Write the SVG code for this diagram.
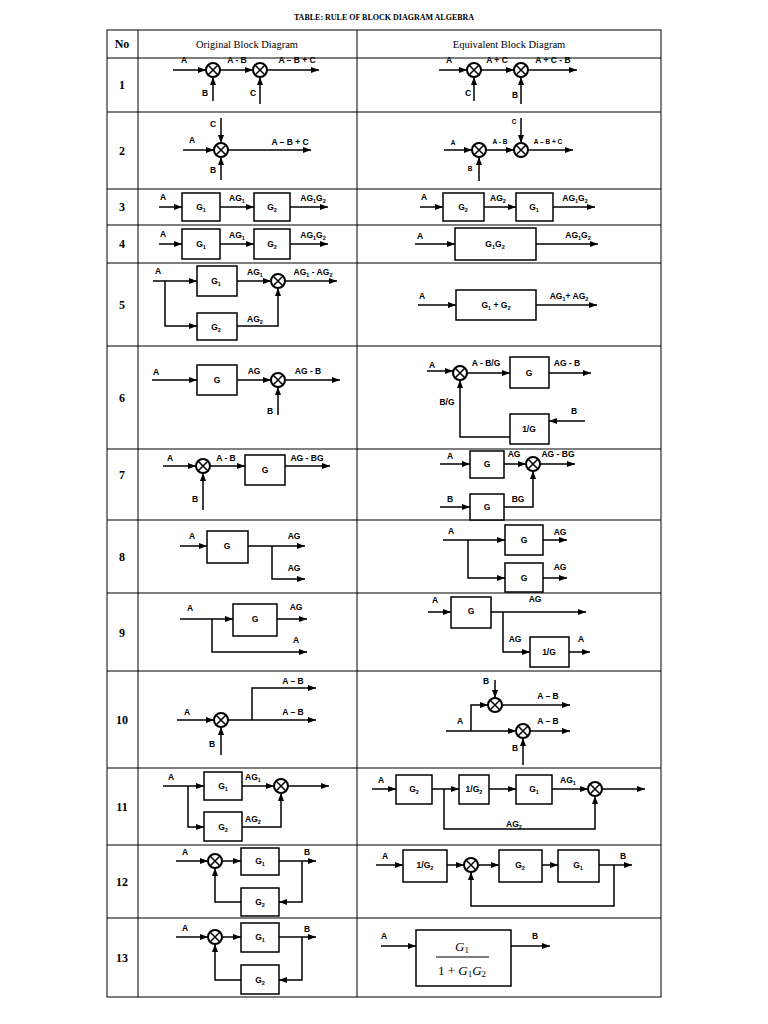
<svg xmlns="http://www.w3.org/2000/svg" xmlns:xlink="http://www.w3.org/1999/xlink" width="768" height="1024" viewBox="0 0 768 1024">
<style>
.g{stroke:#000;stroke-width:1;fill:none}
.a{stroke:#000;stroke-width:1.5;fill:none;marker-end:url(#ar)}
.l{stroke:#000;stroke-width:1.5;fill:none}
.b{stroke:#000;stroke-width:1.5;fill:#fff}
.t{font-family:"Liberation Sans",Arial,sans-serif;font-weight:bold;font-size:8.5px;fill:#000}
.c{text-anchor:middle}
.n{font-family:"Liberation Serif",serif;font-weight:bold;font-size:12px;text-anchor:middle;fill:#000}
.h{font-family:"Liberation Serif",serif;font-size:10.5px;text-anchor:middle;fill:#000}
.s{font-size:5.5px}
</style>
<defs>
<marker id="ar" markerUnits="userSpaceOnUse" markerWidth="8" markerHeight="6" refX="8" refY="3" orient="auto"><path d="M0,0L8,3L0,6z" fill="#000"/></marker>
<g id="sj"><circle r="7" fill="#fff" stroke="#000" stroke-width="2"/><path d="M-5,-5L5,5M5,-5L-5,5" stroke="#000" stroke-width="1.5"/></g>
</defs>
<rect width="768" height="1024" fill="#fff"/>
<text x="384" y="20" class="h" style="font-size:8px;font-weight:bold">TABLE: RULE OF BLOCK DIAGRAM ALGEBRA</text>
<g id="table">
<rect x="107" y="30" width="554" height="967" class="g"/>
<path class="g" d="M138,30V997M357,30V997M107,58H661M107,112H661M107,189H661M107,225H661M107,263H661M107,346H661M107,449H661M107,520H661M107,593H661M107,671H661M107,768H661M107,845H661M107,918H661"/>
<text x="122" y="48" class="n">No</text>
<text x="247" y="48" class="h">Original Block Diagram</text>
<text x="509" y="48" class="h">Equivalent Block Diagram</text>
<text x="122" y="89" class="n">1</text><text x="122" y="155" class="n">2</text><text x="122" y="211" class="n">3</text><text x="122" y="248" class="n">4</text><text x="122" y="309" class="n">5</text><text x="122" y="402" class="n">6</text><text x="122" y="479" class="n">7</text><text x="122" y="561" class="n">8</text><text x="122" y="637" class="n">9</text><text x="122" y="724" class="n">10</text><text x="122" y="811" class="n">11</text><text x="122" y="886" class="n">12</text><text x="122" y="962" class="n">13</text>
</g>
<g id="connectors">
<path class="a" d="M173,70H206"/><path class="a" d="M220,70H253"/><path class="a" d="M267,70H319"/>
<path class="a" d="M213,101V77"/><path class="a" d="M260,104V77"/>
<path class="a" d="M439,70H467"/><path class="a" d="M481,70H514"/><path class="a" d="M528,70H577"/>
<path class="a" d="M474,101V77"/><path class="a" d="M521,104V77"/>
<path class="a" d="M221,118V143"/><path class="a" d="M183,150H214"/><path class="a" d="M221,180V157"/><path class="a" d="M228,150H311"/>
<path class="a" d="M444,150H472"/><path class="a" d="M486,150H514"/><path class="a" d="M521,118V143"/><path class="a" d="M479,181V157"/><path class="a" d="M528,150H573"/>
<path class="a" d="M159,207H182"/><path class="a" d="M220,207H254"/><path class="a" d="M290,207H328"/>
<path class="a" d="M420,207H443"/><path class="a" d="M484,207H516"/><path class="a" d="M553,207H595"/>
<path class="a" d="M159,244H182"/><path class="a" d="M220,244H254"/><path class="a" d="M290,244H328"/>
<path class="a" d="M415,244H455"/><path class="a" d="M536,244H598"/>
<path class="a" d="M153,281H197"/><path class="a" d="M165,281V326H197"/><path class="a" d="M237,281H271"/><path class="a" d="M237,326H278V288"/><path class="a" d="M285,281H337"/>
<path class="a" d="M418,305H456"/><path class="a" d="M536,305H597"/>
<path class="a" d="M152,380H197"/><path class="a" d="M237,380H271"/><path class="a" d="M285,380H340"/><path class="a" d="M278,415V387"/>
<path class="a" d="M427,371H453"/><path class="a" d="M467,373H510"/><path class="a" d="M549,373H591"/><path class="a" d="M585,421H549"/><path class="a" d="M510,437H460V380"/>
<path class="a" d="M163,466H196"/><path class="a" d="M210,466H245"/><path class="a" d="M285,466H330"/><path class="a" d="M203,510V473"/>
<path class="a" d="M440,464H470"/><path class="a" d="M504,464H526"/><path class="a" d="M540,464H575"/><path class="a" d="M440,507H470"/><path class="a" d="M504,507H533V471"/>
<path class="a" d="M180,546H207"/><path class="a" d="M248,546H305"/><path class="a" d="M272,546V579H305"/>
<path class="a" d="M443,540H505"/><path class="a" d="M468,540V578H505"/><path class="a" d="M543,540H567"/><path class="a" d="M543,578H567"/>
<path class="a" d="M180,619H233"/><path class="a" d="M212,619V652H307"/><path class="a" d="M277,619H307"/>
<path class="a" d="M428,612H451"/><path class="a" d="M491,612H586"/><path class="a" d="M503,612V652H530"/><path class="a" d="M569,652H590"/>
<path class="a" d="M177,720H214"/><path class="a" d="M221,755V727"/><path class="a" d="M228,720H316"/><path class="a" d="M252,720V688H316"/>
<path class="a" d="M495,680V698"/><path class="a" d="M446,731H516"/><path class="a" d="M471,731V705H488"/><path class="a" d="M502,705H570"/><path class="a" d="M530,731H570"/><path class="a" d="M523,765V738"/>
<path class="a" d="M163,786H204"/><path class="a" d="M188,786V827H204"/><path class="a" d="M242,786H274"/><path class="a" d="M242,827H281V793"/><path class="a" d="M288,786H329"/>
<path class="a" d="M372,789H396"/><path class="a" d="M432,789H459"/><path class="a" d="M489,789H516"/><path class="a" d="M552,789H588"/><path class="a" d="M444,789V829H595V796"/><path class="a" d="M602,789H645"/>
<path class="a" d="M176,861H208"/><path class="a" d="M222,861H241"/><path class="a" d="M279,861H316"/><path class="a" d="M302,861V902H279"/><path class="a" d="M241,902H215V868"/>
<path class="a" d="M376,865H403"/><path class="a" d="M447,865H464"/><path class="a" d="M478,865H499"/><path class="a" d="M542,865H558"/><path class="a" d="M599,865H632"/><path class="a" d="M614,865V906H471V872"/>
<path class="a" d="M176,937H208"/><path class="a" d="M222,937H241"/><path class="a" d="M279,937H316"/><path class="a" d="M302,937V980H279"/><path class="a" d="M241,980H215V944"/>
<path class="a" d="M381,946H416"/><path class="a" d="M511,946H550"/>
</g>
<g id="junctions">
<use xlink:href="#sj" x="213" y="70"/><use xlink:href="#sj" x="260" y="70"/><use xlink:href="#sj" x="474" y="70"/><use xlink:href="#sj" x="521" y="70"/>
<use xlink:href="#sj" x="221" y="150"/><use xlink:href="#sj" x="479" y="150"/><use xlink:href="#sj" x="521" y="150"/>
<use xlink:href="#sj" x="278" y="281"/><use xlink:href="#sj" x="278" y="380"/><use xlink:href="#sj" x="460" y="373"/>
<use xlink:href="#sj" x="203" y="466"/><use xlink:href="#sj" x="533" y="464"/>
<use xlink:href="#sj" x="221" y="720"/><use xlink:href="#sj" x="495" y="705"/><use xlink:href="#sj" x="523" y="731"/>
<use xlink:href="#sj" x="281" y="786"/><use xlink:href="#sj" x="595" y="789"/>
<use xlink:href="#sj" x="215" y="861"/><use xlink:href="#sj" x="471" y="865"/><use xlink:href="#sj" x="215" y="937"/>
</g>
<g id="blocks">
<g id="r3l1"><rect class="b" x="182" y="193" width="38" height="28"/><text class="t c" x="201" y="210">G<tspan class="s" dy="2">1</tspan></text></g>
<g id="r3l2"><rect class="b" x="254" y="193" width="36" height="28"/><text class="t c" x="272" y="210">G<tspan class="s" dy="2">2</tspan></text></g>
<g id="r3r1"><rect class="b" x="443" y="193" width="41" height="28"/><text class="t c" x="463" y="210">G<tspan class="s" dy="2">2</tspan></text></g>
<g id="r3r2"><rect class="b" x="516" y="193" width="37" height="28"/><text class="t c" x="534" y="210">G<tspan class="s" dy="2">1</tspan></text></g>
<g id="r4l1"><rect class="b" x="182" y="229" width="38" height="30"/><text class="t c" x="201" y="247">G<tspan class="s" dy="2">1</tspan></text></g>
<g id="r4l2"><rect class="b" x="254" y="229" width="36" height="30"/><text class="t c" x="272" y="247">G<tspan class="s" dy="2">2</tspan></text></g>
<g id="r4r"><rect class="b" x="455" y="228" width="81" height="32"/><text class="t c" x="495" y="247">G<tspan class="s" dy="2">1</tspan><tspan dy="-2">G</tspan><tspan class="s" dy="2">2</tspan></text></g>
<g id="r5l1"><rect class="b" x="197" y="266" width="40" height="30"/><text class="t c" x="216" y="284">G<tspan class="s" dy="2">1</tspan></text></g>
<g id="r5l2"><rect class="b" x="197" y="313" width="40" height="27"/><text class="t c" x="216" y="330">G<tspan class="s" dy="2">2</tspan></text></g>
<g id="r5r"><rect class="b" x="456" y="290" width="80" height="30"/><text class="t c" x="496" y="308">G<tspan class="s" dy="2">1</tspan><tspan dy="-2"> + G</tspan><tspan class="s" dy="2">2</tspan></text></g>
<g id="r6l"><rect class="b" x="197" y="365" width="40" height="30"/><text class="t c" x="217" y="383">G</text></g>
<g id="r6r1"><rect class="b" x="510" y="357" width="39" height="31"/><text class="t c" x="529" y="376">G</text></g>
<g id="r6r2"><rect class="b" x="510" y="414" width="39" height="30"/><text class="t c" x="529" y="432">1/G</text></g>
<g id="r7l"><rect class="b" x="245" y="455" width="40" height="30"/><text class="t c" x="265" y="473">G</text></g>
<g id="r7r1"><rect class="b" x="470" y="451" width="34" height="27"/><text class="t c" x="487" y="467">G</text></g>
<g id="r7r2"><rect class="b" x="470" y="494" width="34" height="26"/><text class="t c" x="487" y="510">G</text></g>
<g id="r8l"><rect class="b" x="207" y="531" width="41" height="32"/><text class="t c" x="227" y="549">G</text></g>
<g id="r8r1"><rect class="b" x="505" y="525" width="38" height="30"/><text class="t c" x="524" y="543">G</text></g>
<g id="r8r2"><rect class="b" x="505" y="563" width="38" height="29"/><text class="t c" x="524" y="581">G</text></g>
<g id="r9l"><rect class="b" x="233" y="604" width="44" height="32"/><text class="t c" x="255" y="622">G</text></g>
<g id="r9r1"><rect class="b" x="451" y="597" width="40" height="31"/><text class="t c" x="471" y="614">G</text></g>
<g id="r9r2"><rect class="b" x="530" y="637" width="39" height="30"/><text class="t c" x="549" y="655">1/G</text></g>
<g id="r11l1"><rect class="b" x="204" y="772" width="38" height="28"/><text class="t c" x="223" y="789">G<tspan class="s" dy="2">1</tspan></text></g>
<g id="r11l2"><rect class="b" x="204" y="812" width="38" height="29"/><text class="t c" x="223" y="830">G<tspan class="s" dy="2">2</tspan></text></g>
<g id="r11r1"><rect class="b" x="396" y="775" width="36" height="29"/><text class="t c" x="414" y="792">G<tspan class="s" dy="2">2</tspan></text></g>
<g id="r11r2"><rect class="b" x="459" y="775" width="30" height="29"/><text class="t c" x="474" y="792">1/G<tspan class="s" dy="2">2</tspan></text></g>
<g id="r11r3"><rect class="b" x="516" y="775" width="36" height="29"/><text class="t c" x="534" y="792">G<tspan class="s" dy="2">1</tspan></text></g>
<g id="r12l1"><rect class="b" x="241" y="848" width="38" height="27"/><text class="t c" x="260" y="864">G<tspan class="s" dy="2">1</tspan></text></g>
<g id="r12l2"><rect class="b" x="241" y="888" width="38" height="28"/><text class="t c" x="260" y="905">G<tspan class="s" dy="2">2</tspan></text></g>
<g id="r12r1"><rect class="b" x="403" y="850" width="44" height="32"/><text class="t c" x="425" y="868">1/G<tspan class="s" dy="2">2</tspan></text></g>
<g id="r12r2"><rect class="b" x="499" y="850" width="43" height="32"/><text class="t c" x="520" y="868">G<tspan class="s" dy="2">2</tspan></text></g>
<g id="r12r3"><rect class="b" x="558" y="850" width="41" height="32"/><text class="t c" x="578" y="868">G<tspan class="s" dy="2">1</tspan></text></g>
<g id="r13l1"><rect class="b" x="241" y="923" width="38" height="29"/><text class="t c" x="260" y="940">G<tspan class="s" dy="2">1</tspan></text></g>
<g id="r13l2"><rect class="b" x="241" y="965" width="38" height="29"/><text class="t c" x="260" y="983">G<tspan class="s" dy="2">2</tspan></text></g>
<g id="r13r"><rect class="b" x="416" y="930" width="95" height="56"/>
<text x="462" y="951" style="font-family:'Liberation Serif',serif;font-style:italic;font-size:13px" text-anchor="middle">G<tspan font-size="9" dy="2" font-style="normal">1</tspan></text>
<path d="M436,957H489" stroke="#000" stroke-width="1"/>
<text x="462" y="975" style="font-family:'Liberation Serif',serif;font-size:13px" text-anchor="middle">1 + <tspan font-style="italic">G</tspan><tspan font-size="9" dy="2">1</tspan><tspan font-style="italic" dy="-2">G</tspan><tspan font-size="9" dy="2">2</tspan></text></g>
</g>
<g id="labels" class="t">
<text x="184" y="63" class="c">A</text><text x="237" y="63" class="c">A - B</text><text x="297" y="63" class="c">A – B + C</text><text x="205" y="96" class="c">B</text><text x="253" y="96" class="c">C</text>
<text x="449" y="63" class="c">A</text><text x="497" y="63" class="c">A + C</text><text x="553" y="63" class="c">A + C - B</text><text x="468" y="96" class="c">C</text><text x="515" y="98" class="c">B</text>
<text x="213" y="127" class="c">C</text><text x="192" y="143" class="c">A</text><text x="213" y="173" class="c">B</text><text x="290" y="145" class="c">A – B + C</text>
<text x="453" y="145" class="c" style="font-size:6.5px">A</text><text x="500" y="144" class="c" style="font-size:6.5px">A - B</text><text x="514" y="124" class="c" style="font-size:6.5px">C</text><text x="470" y="171" class="c" style="font-size:6.5px">B</text><text x="548" y="144" class="c" style="font-size:6.5px">A – B + C</text>
<text x="163" y="200" class="c">A</text><text x="237" y="201" class="c">AG<tspan class="s" dy="2">1</tspan></text><text x="313" y="201" class="c">AG<tspan class="s" dy="2">1</tspan><tspan dy="-2">G</tspan><tspan class="s" dy="2">2</tspan></text>
<text x="424" y="200" class="c">A</text><text x="498" y="201" class="c">AG<tspan class="s" dy="2">2</tspan></text><text x="575" y="201" class="c">AG<tspan class="s" dy="2">1</tspan><tspan dy="-2">G</tspan><tspan class="s" dy="2">2</tspan></text>
<text x="163" y="237" class="c">A</text><text x="237" y="238" class="c">AG<tspan class="s" dy="2">1</tspan></text><text x="313" y="238" class="c">AG<tspan class="s" dy="2">1</tspan><tspan dy="-2">G</tspan><tspan class="s" dy="2">2</tspan></text>
<text x="420" y="239" class="c">A</text><text x="578" y="238" class="c">AG<tspan class="s" dy="2">1</tspan><tspan dy="-2">G</tspan><tspan class="s" dy="2">2</tspan></text>
<text x="158" y="274" class="c">A</text><text x="255" y="275" class="c">AG<tspan class="s" dy="2">1</tspan></text><text x="313" y="275" class="c">AG<tspan class="s" dy="2">1</tspan><tspan dy="-2"> - AG</tspan><tspan class="s" dy="2">2</tspan></text><text x="255" y="322" class="c">AG<tspan class="s" dy="2">2</tspan></text>
<text x="422" y="299" class="c">A</text><text x="569" y="299" class="c">AG<tspan class="s" dy="2">1</tspan><tspan dy="-2">+ AG</tspan><tspan class="s" dy="2">2</tspan></text>
<text x="156" y="375" class="c">A</text><text x="254" y="374" class="c">AG</text><text x="308" y="374" class="c">AG - B</text><text x="270" y="414" class="c">B</text>
<text x="432" y="368" class="c">A</text><text x="486" y="366" class="c">A - B/G</text><text x="567" y="366" class="c">AG - B</text><text x="447" y="405" class="c">B/G</text><text x="574" y="414" class="c">B</text>
<text x="170" y="461" class="c">A</text><text x="226" y="461" class="c">A - B</text><text x="307" y="461" class="c">AG - BG</text><text x="195" y="502" class="c">B</text>
<text x="450" y="459" class="c">A</text><text x="514" y="457" class="c">AG</text><text x="558" y="457" class="c">AG - BG</text><text x="450" y="502" class="c">B</text><text x="518" y="502" class="c">BG</text>
<text x="192" y="539" class="c">A</text><text x="294" y="539" class="c">AG</text><text x="294" y="571" class="c">AG</text>
<text x="451" y="534" class="c">A</text><text x="560" y="535" class="c">AG</text><text x="560" y="570" class="c">AG</text>
<text x="190" y="611" class="c">A</text><text x="296" y="610" class="c">AG</text><text x="296" y="643" class="c">A</text>
<text x="435" y="603" class="c">A</text><text x="535" y="602" class="c">AG</text><text x="515" y="642" class="c">AG</text><text x="581" y="642" class="c">A</text>
<text x="187" y="715" class="c">A</text><text x="212" y="747" class="c">B</text><text x="293" y="684" class="c">A – B</text><text x="293" y="715" class="c">A – B</text>
<text x="486" y="684" class="c">B</text><text x="548" y="699" class="c">A – B</text><text x="460" y="724" class="c">A</text><text x="548" y="724" class="c">A – B</text><text x="515" y="751" class="c">B</text>
<text x="171" y="780" class="c">A</text><text x="253" y="780" class="c">AG<tspan class="s" dy="2">1</tspan></text><text x="253" y="822" class="c">AG<tspan class="s" dy="2">2</tspan></text>
<text x="381" y="783" class="c">A</text><text x="568" y="783" class="c">AG<tspan class="s" dy="2">1</tspan></text><text x="514" y="827" class="c">AG<tspan class="s" dy="2">2</tspan></text>
<text x="185" y="855" class="c">A</text><text x="307" y="855" class="c">B</text>
<text x="385" y="859" class="c">A</text><text x="623" y="859" class="c">B</text>
<text x="185" y="931" class="c">A</text><text x="307" y="932" class="c">B</text>
<text x="384" y="939" class="c">A</text><text x="535" y="939" class="c">B</text>
</g>
</svg>
